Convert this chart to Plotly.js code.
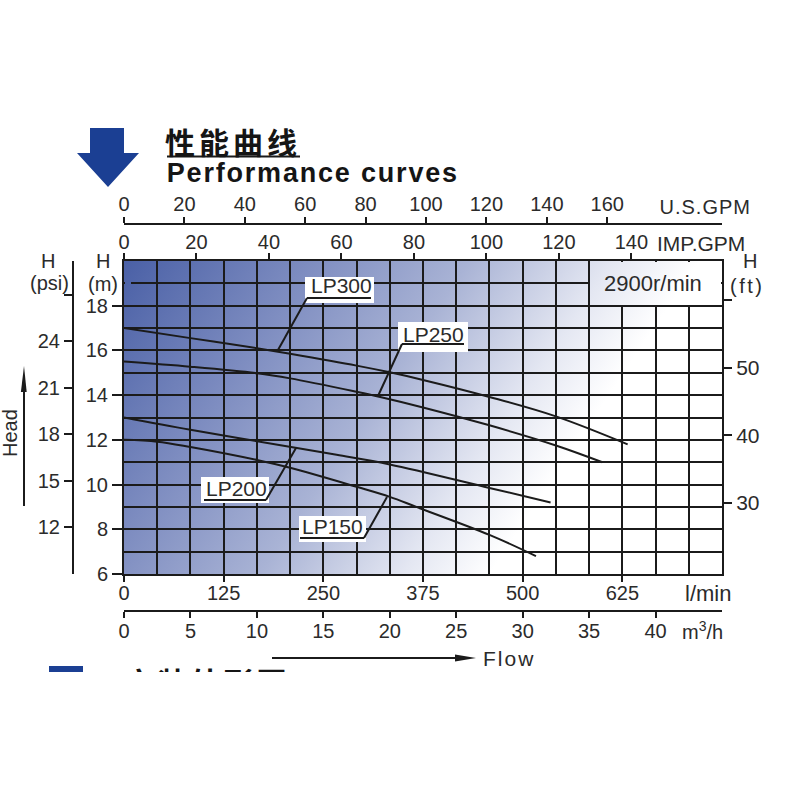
<!DOCTYPE html>
<html>
<head>
<meta charset="utf-8">
<script src="https://cdn.plot.ly/plotly-3.0.1.min.js"></script>
<style>
html,body{margin:0;padding:0;background:#fff;}
#clip{width:800px;height:672px;overflow:hidden;position:relative;}
#chart{width:800px;height:800px;}
</style>
</head>
<body>
<div id="clip"><div id="chart"></div></div>
<script>
// Data
const lp300Flow = [0, 5, 10, 12.5, 17.5, 20, 22.5, 27.5, 32.5, 37.9];
const lp300Head = [17, 16.55, 16.1, 15.85, 15.32, 15.02, 14.68, 13.92, 13.05, 11.8];
const lp250Flow = [0, 5, 10, 12.5, 17.5, 19.2, 22.5, 27.5, 32.5, 36];
const lp250Head = [15.5, 15.27, 14.98, 14.75, 14.15, 13.93, 13.45, 12.65, 11.75, 11];
const lp200Flow = [0, 5, 12.9, 16, 20, 27.5, 32.1];
const lp200Head = [13, 12.45, 11.65, 11.33, 10.9, 9.85, 9.2];
const lp150Flow = [0, 2.5, 5, 10, 12.5, 17.5, 20, 22, 27.5, 31];
const lp150Head = [12, 11.92, 11.68, 11.1, 10.75, 9.9, 9.45, 9.0, 7.75, 6.8];

const lminTicks = [0, 125, 250, 375, 500, 625];
const m3hTicks = [0, 5, 10, 15, 20, 25, 30, 35, 40];
const impTicks = [0, 20, 40, 60, 80, 100, 120, 140];
const usTicks = [0, 20, 40, 60, 80, 100, 120, 140, 160];
const metreTicks = [6, 8, 10, 12, 14, 16, 18];
const psiTicks = [12, 15, 18, 21, 24];
const psiExtraTicks = [27];
const feetTicks = [30, 40, 50];
const feetExtraTicks = [60];

// Layout helpers (pixel position in the 800x800 page -> paper fraction)
const W = 800, H = 800;
const L = 124, R = 722, T = 261, B = 574;
const px = x => x / W;
const py = y => 1 - y / H;
const INK = '#1b1b1b', TXT = '#2b2b2b';
const SANS = '"Liberation Sans", Arial, sans-serif';
const CJK = '"Noto Sans CJK SC", sans-serif';

function paintGradient(ctx) {
  const g = ctx.createLinearGradient(L, T, L + 478 * 0.831, T + 478 * 0.556);
  g.addColorStop(0, '#4a60a6');
  g.addColorStop(0.32, '#7d8cc0');
  g.addColorStop(0.6, '#a9b3d5');
  g.addColorStop(0.85, '#e4e7f2');
  g.addColorStop(1, '#ffffff');
  ctx.fillStyle = g;
}
function gradientCanvas(rects) {
  const c = document.createElement('canvas');
  c.width = W; c.height = H;
  const ctx = c.getContext('2d');
  paintGradient(ctx);
  rects.forEach(r => ctx.fillRect(r[0], r[1], r[2] - r[0], r[3] - r[1]));
  return c.toDataURL('image/png');
}
const fullImage = {source: gradientCanvas([[L, T, R, B]]), xref: 'paper', yref: 'paper', x: 0, y: 1, sizex: 1, sizey: 1, sizing: 'stretch', xanchor: 'left', yanchor: 'top', layer: 'below'};
const patchImage = {source: gradientCanvas([[590, 262, 721, 305], [125, 281, 131, 287]]), xref: 'paper', yref: 'paper', x: 0, y: 1, sizex: 1, sizey: 1, sizing: 'stretch', xanchor: 'left', yanchor: 'top', layer: 'above'};

const curve = (x, y) => ({x, y, xaxis: 'x2', yaxis: 'y', mode: 'lines', line: {color: INK, width: 2, shape: 'spline', smoothing: 1}, hoverinfo: 'skip', showlegend: false});
const stub = (xa, ya) => ({x: [null], y: [null], xaxis: xa, yaxis: ya, mode: 'lines', hoverinfo: 'skip', showlegend: false});
const traces = [
  curve(lp300Flow, lp300Head), curve(lp250Flow, lp250Head),
  curve(lp200Flow, lp200Head), curve(lp150Flow, lp150Head),
  stub('x3', 'y'), stub('x4', 'y'), stub('x', 'y2'), stub('x', 'y3'), stub('x', 'y')
];

const tf = {family: SANS, size: 20, color: TXT};
const common = {showline: true, linecolor: INK, linewidth: 2, ticks: 'outside', tickcolor: INK, tickwidth: 2, tickfont: tf, showgrid: false, zeroline: false, fixedrange: true, automargin: false};
const extraTicks = vals => ({tickmode: 'array', tickvals: vals, ticks: 'outside', ticklen: 8, tickwidth: 2, tickcolor: INK, showgrid: false});

const xDom = [px(L), px(R)], yDom = [py(B), py(T)];
const layout = {
  width: W, height: H,
  margin: {l: 0, r: 0, t: 0, b: 0},
  paper_bgcolor: '#ffffff', plot_bgcolor: 'rgba(0,0,0,0)',
  showlegend: false,
  images: [fullImage, patchImage],
  xaxis: Object.assign({}, common, {domain: xDom, range: [0, 750], anchor: 'y', side: 'bottom', tickmode: 'array', tickvals: lminTicks, ticktext: lminTicks.map(String), ticklen: 6, mirror: true, ticklabelstandoff: -6,
    showgrid: true, gridcolor: INK, gridwidth: 2,
    minor: {dtick: 125 / 3, tick0: 0, showgrid: true, gridcolor: INK, gridwidth: 2, ticks: ''}}),
  xaxis2: Object.assign({}, common, {domain: xDom, range: [0, 45], anchor: 'free', position: py(611), overlaying: 'x', side: 'bottom', tickmode: 'array', tickvals: m3hTicks, ticktext: m3hTicks.map(String), ticklen: 6, ticklabelstandoff: -4}),
  xaxis3: Object.assign({}, common, {domain: xDom, range: [0, 165], anchor: 'y', overlaying: 'x', side: 'top', tickmode: 'array', tickvals: impTicks, ticktext: impTicks.map(String), ticklen: 6, ticklabelstandoff: -4}),
  xaxis4: Object.assign({}, common, {domain: xDom, range: [0, 198], anchor: 'free', position: py(224), overlaying: 'x', side: 'top', tickmode: 'array', tickvals: usTicks, ticktext: usTicks.map(String), ticklen: 6, ticklabelstandoff: -2}),
  yaxis: Object.assign({}, common, {domain: yDom, range: [6, 20], anchor: 'x', side: 'left', tickmode: 'array', tickvals: metreTicks, ticktext: metreTicks.map(String), ticklen: 10, mirror: true,
    minor: {dtick: 1, tick0: 6, showgrid: true, gridcolor: INK, gridwidth: 2, ticks: ''}}),
  yaxis2: Object.assign({}, common, {domain: yDom, range: [8.96, 29.18], anchor: 'free', position: px(73), overlaying: 'y', side: 'left', tickmode: 'array', tickvals: psiTicks, ticktext: psiTicks.map(String), ticklen: 8, minor: extraTicks(psiExtraTicks)}),
  yaxis3: Object.assign({}, common, {domain: yDom, range: [19.5, 65.8], anchor: 'x', overlaying: 'y', side: 'right', tickmode: 'array', tickvals: feetTicks, ticktext: feetTicks.map(String), ticklen: 8, tickfont: {family: SANS, size: 21, color: TXT}, minor: extraTicks(feetExtraTicks)}),
  shapes: [],
  annotations: []
};

const rect = (x0, y0, x1, y1, fill) => layout.shapes.push({type: 'rect', xref: 'paper', yref: 'paper', x0: px(x0), x1: px(x1), y0: py(y0), y1: py(y1), fillcolor: fill, line: {width: 0}});
const seg = (x0, y0, x1, y1, w) => layout.shapes.push({type: 'line', xref: 'paper', yref: 'paper', x0: px(x0), x1: px(x1), y0: py(y0), y1: py(y1), line: {color: INK, width: w || 2}});
const poly = (pts, fill) => layout.shapes.push({type: 'path', xref: 'paper', yref: 'paper', path: 'M' + pts.map(p => px(p[0]) + ',' + py(p[1])).join(' L') + ' Z', fillcolor: fill, line: {width: 0}});
const spacing = [];
function note(text, x, y, o) {
  o = o || {};
  layout.annotations.push({text, xref: 'paper', yref: 'paper', x: px(x), y: py(y), xanchor: o.anchor || 'center', yanchor: 'middle', showarrow: false, textangle: o.angle || 0, borderpad: 0,
    font: {family: o.family || SANS, size: o.size || 20, color: o.color || TXT, weight: o.weight || 'normal'}});
  spacing.push(o.ls || 0);
}

// Header arrow, title, bottom fragment
const NAVY = '#1b3f93';
poly([[90, 128], [124, 128], [124, 153], [139, 153], [108, 187], [77, 153], [90, 153]], NAVY);
note('性能曲线', 233, 141, {family: CJK, size: 30, weight: 'bold', color: '#151515', ls: 4});
seg(167, 156.5, 300, 156.5, 2);
note('Performance curves', 313, 173, {size: 27, weight: 'bold', color: '#151515', ls: 1.8});
rect(49, 666, 83, 673, NAVY);
note('安装外形图', 207, 681, {family: CJK, size: 30, weight: 'bold', color: '#151515', ls: 3});

// Callouts
rect(305, 277, 374, 303, '#ffffff'); seg(307, 298, 371, 298); seg(307, 298, 278, 350);
note('LP300', 341, 286, {size: 21});
rect(398, 322, 468, 352, '#ffffff'); seg(402, 344, 464, 344); seg(402, 344, 378, 396);
note('LP250', 433, 334, {size: 21});
rect(201, 477, 269, 503, '#ffffff'); seg(204, 500, 266, 500); seg(266, 500, 296, 448);
note('LP200', 236, 489, {size: 21});
rect(299, 516, 366, 542, '#ffffff'); seg(300, 538, 364, 538); seg(364, 538, 387, 497);
note('LP150', 332, 526, {size: 21});

// Axis captions
note('H', 48, 261); note('(psi)', 49, 283);
note('H', 103, 261); note('(m)', 103, 284);
note('H', 750, 261); note('(ft)', 747, 286, {ls: 2.5});
note('U.S.GPM', 705, 207, {ls: 1});
note('IMP.GPM', 701, 244, {size: 21});
note('2900r/min', 653, 283, {size: 22});
note('l/min', 708, 593, {size: 22});
note('m<sup>3</sup>/h', 702, 630);
note('Flow', 509, 658, {size: 21, ls: 2});
note('Head', 10, 433, {angle: -90});

// Axis direction arrows
seg(24, 506, 24, 388, 2);
poly([[24, 366], [26.7, 392], [20.9, 392]], INK);
seg(272, 658, 460, 658, 2);
poly([[476, 658], [455, 654.5], [455, 661.5]], INK);

Plotly.newPlot('chart', traces, layout, {displayModeBar: false, staticPlot: true}).then(() => {
  document.querySelectorAll('.annotation').forEach((a, i) => {
    if (spacing[i]) a.querySelectorAll('text').forEach(t => { t.style.letterSpacing = spacing[i] + 'px'; });
  });
});
</script>
</body>
</html>
